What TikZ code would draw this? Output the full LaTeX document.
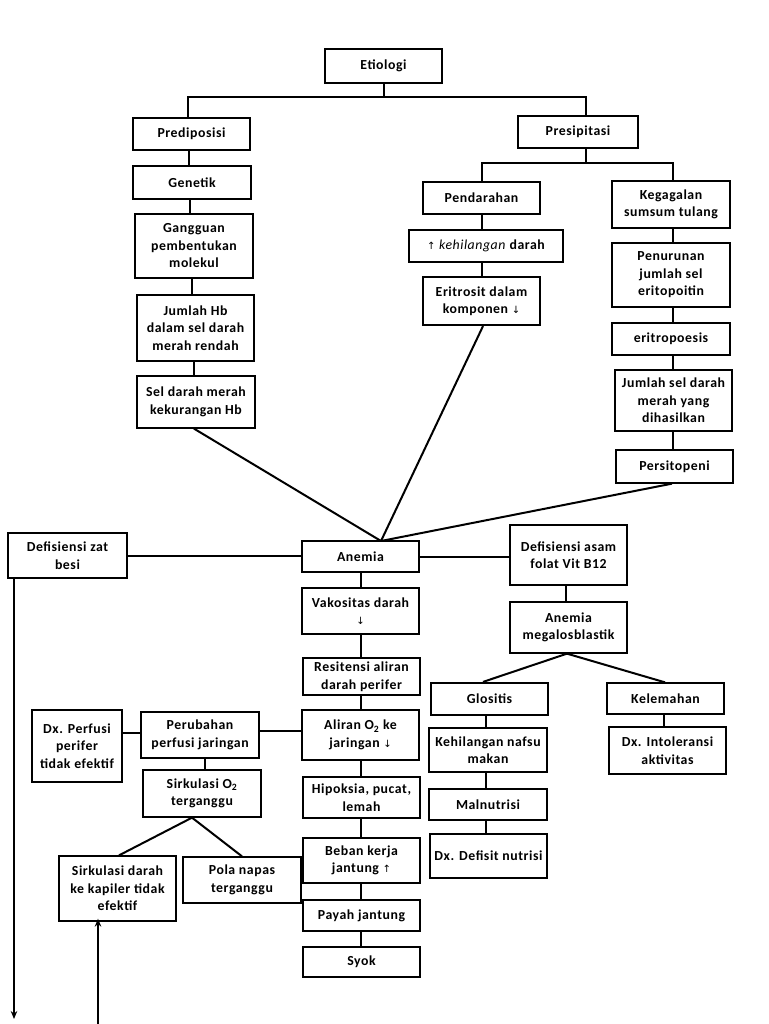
\documentclass[tikz,border=0pt]{standalone}
\usepackage{fontspec}
\setmainfont{Carlito}[LetterSpace=4]
\newfontfamily\arrfont{DejaVu Sans}
\usetikzlibrary{arrows.meta,calc}
\newcommand\myup{{\arrfont\mdseries\fontsize{10}{17}\selectfont ↑}}
\newcommand\mydown{{\arrfont\mdseries\fontsize{10}{17}\selectfont ↓}}
\begin{document}
\begin{tikzpicture}[x=1pt,y=-1pt,
  box/.style={draw, fill=white, line width=1.3pt, align=center, inner sep=1pt,
    font=\fontsize{13.8}{17.5}\selectfont\bfseries},
  tbox/.style={box, line width=2.2pt},
  conn/.style={line width=2pt},
  tip/.style={-{Stealth[length=8pt,width=6.5pt]}}
  ]
\useasboundingbox[fill=white] (0,0) rectangle (768,1024);

% top
\node[box, minimum width=117, minimum height=34] (etio) at (383.5,66) {Etiologi};
\node[box, minimum width=117, minimum height=32] (pred) at (191.5,134) {Prediposisi};
\node[box, minimum width=120, minimum height=32] (pres) at (578,132) {Presipitasi};

% left chain
\node[tbox, minimum width=118, minimum height=33] (gen) at (192,182.5) {Genetik};
\node[box, minimum width=118, minimum height=64] (gang) at (194,246) {Gangguan\\pembentukan\\molekul};
\node[tbox, minimum width=117, minimum height=66] (jhb) at (195.5,328) {Jumlah Hb\\dalam sel darah\\merah rendah};
\node[box, minimum width=118, minimum height=52] (sel) at (196,402) {Sel darah merah\\kekurangan Hb};

% right chains
\node[tbox, minimum width=117, minimum height=32] (pend) at (481.5,198) {Pendarahan};
\node[box, minimum width=154, minimum height=32] (kehil) at (486,246) {\myup\ \textit{\mdseries kehilangan} darah};
\node[tbox, minimum width=117, minimum height=48] (erit) at (481.5,301) {Eritrosit dalam\\komponen \mydown};

\node[tbox, minimum width=118, minimum height=47] (keg) at (671,204.5) {Kegagalan\\sumsum tulang};
\node[tbox, minimum width=118, minimum height=64] (penur) at (671,275) {Penurunan\\jumlah sel\\eritopoitin};
\node[tbox, minimum width=118, minimum height=32] (eritro) at (671,339) {eritropoesis};
\node[tbox, minimum width=117, minimum height=61] (jsd) at (673.5,400.5) {Jumlah sel darah\\merah yang\\dihasilkan};
\node[box, minimum width=117, minimum height=33] (pers) at (674.5,466.5) {Persitopeni};

% anemia row
\node[tbox, minimum width=117, minimum height=31] (anem) at (360.5,556.5) {Anemia};
\node[tbox, minimum width=119, minimum height=45] (defz) at (67.5,555.5) {Defisiensi zat\\besi};
\node[box, minimum width=117, minimum height=60] (defa) at (568.5,555) {Defisiensi asam\\folat Vit B12};

% central chain
\node[box, minimum width=117, minimum height=46] (vak) at (360.5,611) {Vakositas darah\\\mydown};
\node[box, minimum width=117, minimum height=37] (resi) at (361.5,676.5) {Resitensi aliran\\darah perifer};
\node[box, minimum width=117, minimum height=50] (aliran) at (360.5,735) {Aliran O\textsubscript{2} ke\\jaringan \mydown};
\node[box, minimum width=117, minimum height=41] (hipo) at (361.5,797.5) {Hipoksia, pucat,\\lemah};
\node[tbox, minimum width=117, minimum height=45] (beban) at (361.5,860.5) {Beban kerja\\jantung \myup};
\node[box, minimum width=117, minimum height=31] (payah) at (361.5,915.5) {Payah jantung};
\node[box, minimum width=117, minimum height=30] (syok) at (361.5,962) {Syok};

% right lower
\node[box, minimum width=117, minimum height=51] (mega) at (568.5,627.5) {Anemia\\megalosblastik};
\node[tbox, minimum width=117, minimum height=32] (glos) at (489.5,699) {Glositis};
\node[box, minimum width=117, minimum height=31] (kelem) at (665.5,698.5) {Kelemahan};
\node[box, minimum width=118, minimum height=44] (kehn) at (488,750) {Kehilangan nafsu\\makan};
\node[box, minimum width=117, minimum height=47] (dxint) at (667.5,750.5) {Dx. Intoleransi\\aktivitas};
\node[tbox, minimum width=118, minimum height=31] (maln) at (488,804.5) {Malnutrisi};
\node[box, minimum width=117, minimum height=44] (dxdef) at (488.5,856) {Dx. Defisit nutrisi};

% left lower
\node[box, minimum width=90, minimum height=72] (dxperf) at (77,746) {Dx. Perfusi\\perifer\\tidak efektif};
\node[tbox, minimum width=118, minimum height=46] (perub) at (200,735) {Perubahan\\perfusi jaringan};
\node[box, minimum width=118, minimum height=47] (sirko) at (202,793.5) {Sirkulasi O\textsubscript{2}\\terganggu};
\node[box, minimum width=117, minimum height=65] (sirkd) at (117.5,888.5) {Sirkulasi darah\\ke kapiler tidak\\efektif};
\node[box, minimum width=118, minimum height=46] (pola) at (242,880) {Pola napas\\terganggu};

% coordinates
\coordinate (bL) at (188,97);
\coordinate (bR) at (586,97);
\coordinate (cL) at (482,163);
\coordinate (cR) at (673,163);
\coordinate (conv) at (381,541);
\coordinate (dzEnd) at (14,1019);
\coordinate (upStart) at (98,1024);

% connectors top
\draw[conn] (etio.south) -- (etio.south |- bL);
\draw[conn] (pred.north -| bL) -- (bL) -- (bR) -- (pres.north -| bR);
\draw[conn] (pres.south -| bR) -- (bR |- cL);
\draw[conn] (pend.north -| cL) -- (cL) -- (cR) -- (keg.north -| cR);

% left chain
\draw[conn] (pred.south -| 189,0) -- (gen.north -| 189,0);
\draw[conn] (gen.south -| 190,0) -- (gang.north -| 190,0);
\draw[conn] (gang.south -| 192,0) -- (jhb.north -| 192,0);
\draw[conn] (jhb.south -| 194,0) -- (sel.north -| 194,0);

% right chains
\draw[conn] (pend.south -| cL) -- (kehil.north -| cL);
\draw[conn] (kehil.south -| cL) -- (erit.north -| cL);
\draw[conn] (keg.south -| cR) -- (penur.north -| cR);
\draw[conn] (penur.south -| cR) -- (eritro.north -| cR);
\draw[conn] (eritro.south -| cR) -- (jsd.north -| cR);
\draw[conn] (jsd.south -| cR) -- (pers.north -| cR);

% into anemia
\draw[conn] (sel.south -| 194,0) -- (conv);
\draw[conn] (erit.south -| 483,0) -- (conv);
\draw[conn] (pers.south -| 672,0) -- (conv);
\draw[conn] (defz.east) -- (defz.east -| anem.west);
\draw[conn] (anem.east) -- (anem.east -| defa.west);
\draw[conn, tip] (defz.south -| dzEnd) -- (dzEnd);

% central chain
\draw[conn] (anem.south -| 361,0) -- (vak.north -| 361,0);
\draw[conn] (vak.south -| 361,0) -- (resi.north -| 361,0);
\draw[conn] (resi.south -| 361,0) -- (aliran.north -| 361,0);
\draw[conn] (aliran.south -| 361,0) -- (hipo.north -| 361,0);
\draw[conn] (hipo.south -| 361,0) -- (beban.north -| 361,0);
\draw[conn] (beban.south -| 361,0) -- (payah.north -| 361,0);
\draw[conn] (payah.south -| 361,0) -- (syok.north -| 361,0);

% right lower
\draw[conn] (defa.south -| 566,0) -- (mega.north -| 566,0);
\draw[conn] (mega.south -| 567,0) -- (glos.north -| 483,0);
\draw[conn] (mega.south -| 567,0) -- (kelem.north -| 665,0);
\draw[conn] (glos.south -| 486,0) -- (kehn.north -| 486,0);
\draw[conn] (kehn.south -| 486,0) -- (maln.north -| 486,0);
\draw[conn] (maln.south -| 486,0) -- (dxdef.north -| 486,0);
\draw[conn] (kelem.south -| 664,0) -- (dxint.north -| 664,0);

% left lower
\draw[conn] (perub.east |- 0,731) -- (aliran.west |- 0,731);
\draw[conn] (dxperf.east |- 0,733) -- (perub.west |- 0,733);
\draw[conn] (perub.south -| 205,0) -- (sirko.north -| 205,0);
\draw[conn] (sirko.south -| 192,0) -- (sirkd.north -| 119,0);
\draw[conn] (sirko.south -| 192,0) -- (pola.north -| 242,0);
\draw[conn, tip, shorten >=-3pt] (upStart) -- (sirkd.south -| upStart);
\end{tikzpicture}
\end{document}
